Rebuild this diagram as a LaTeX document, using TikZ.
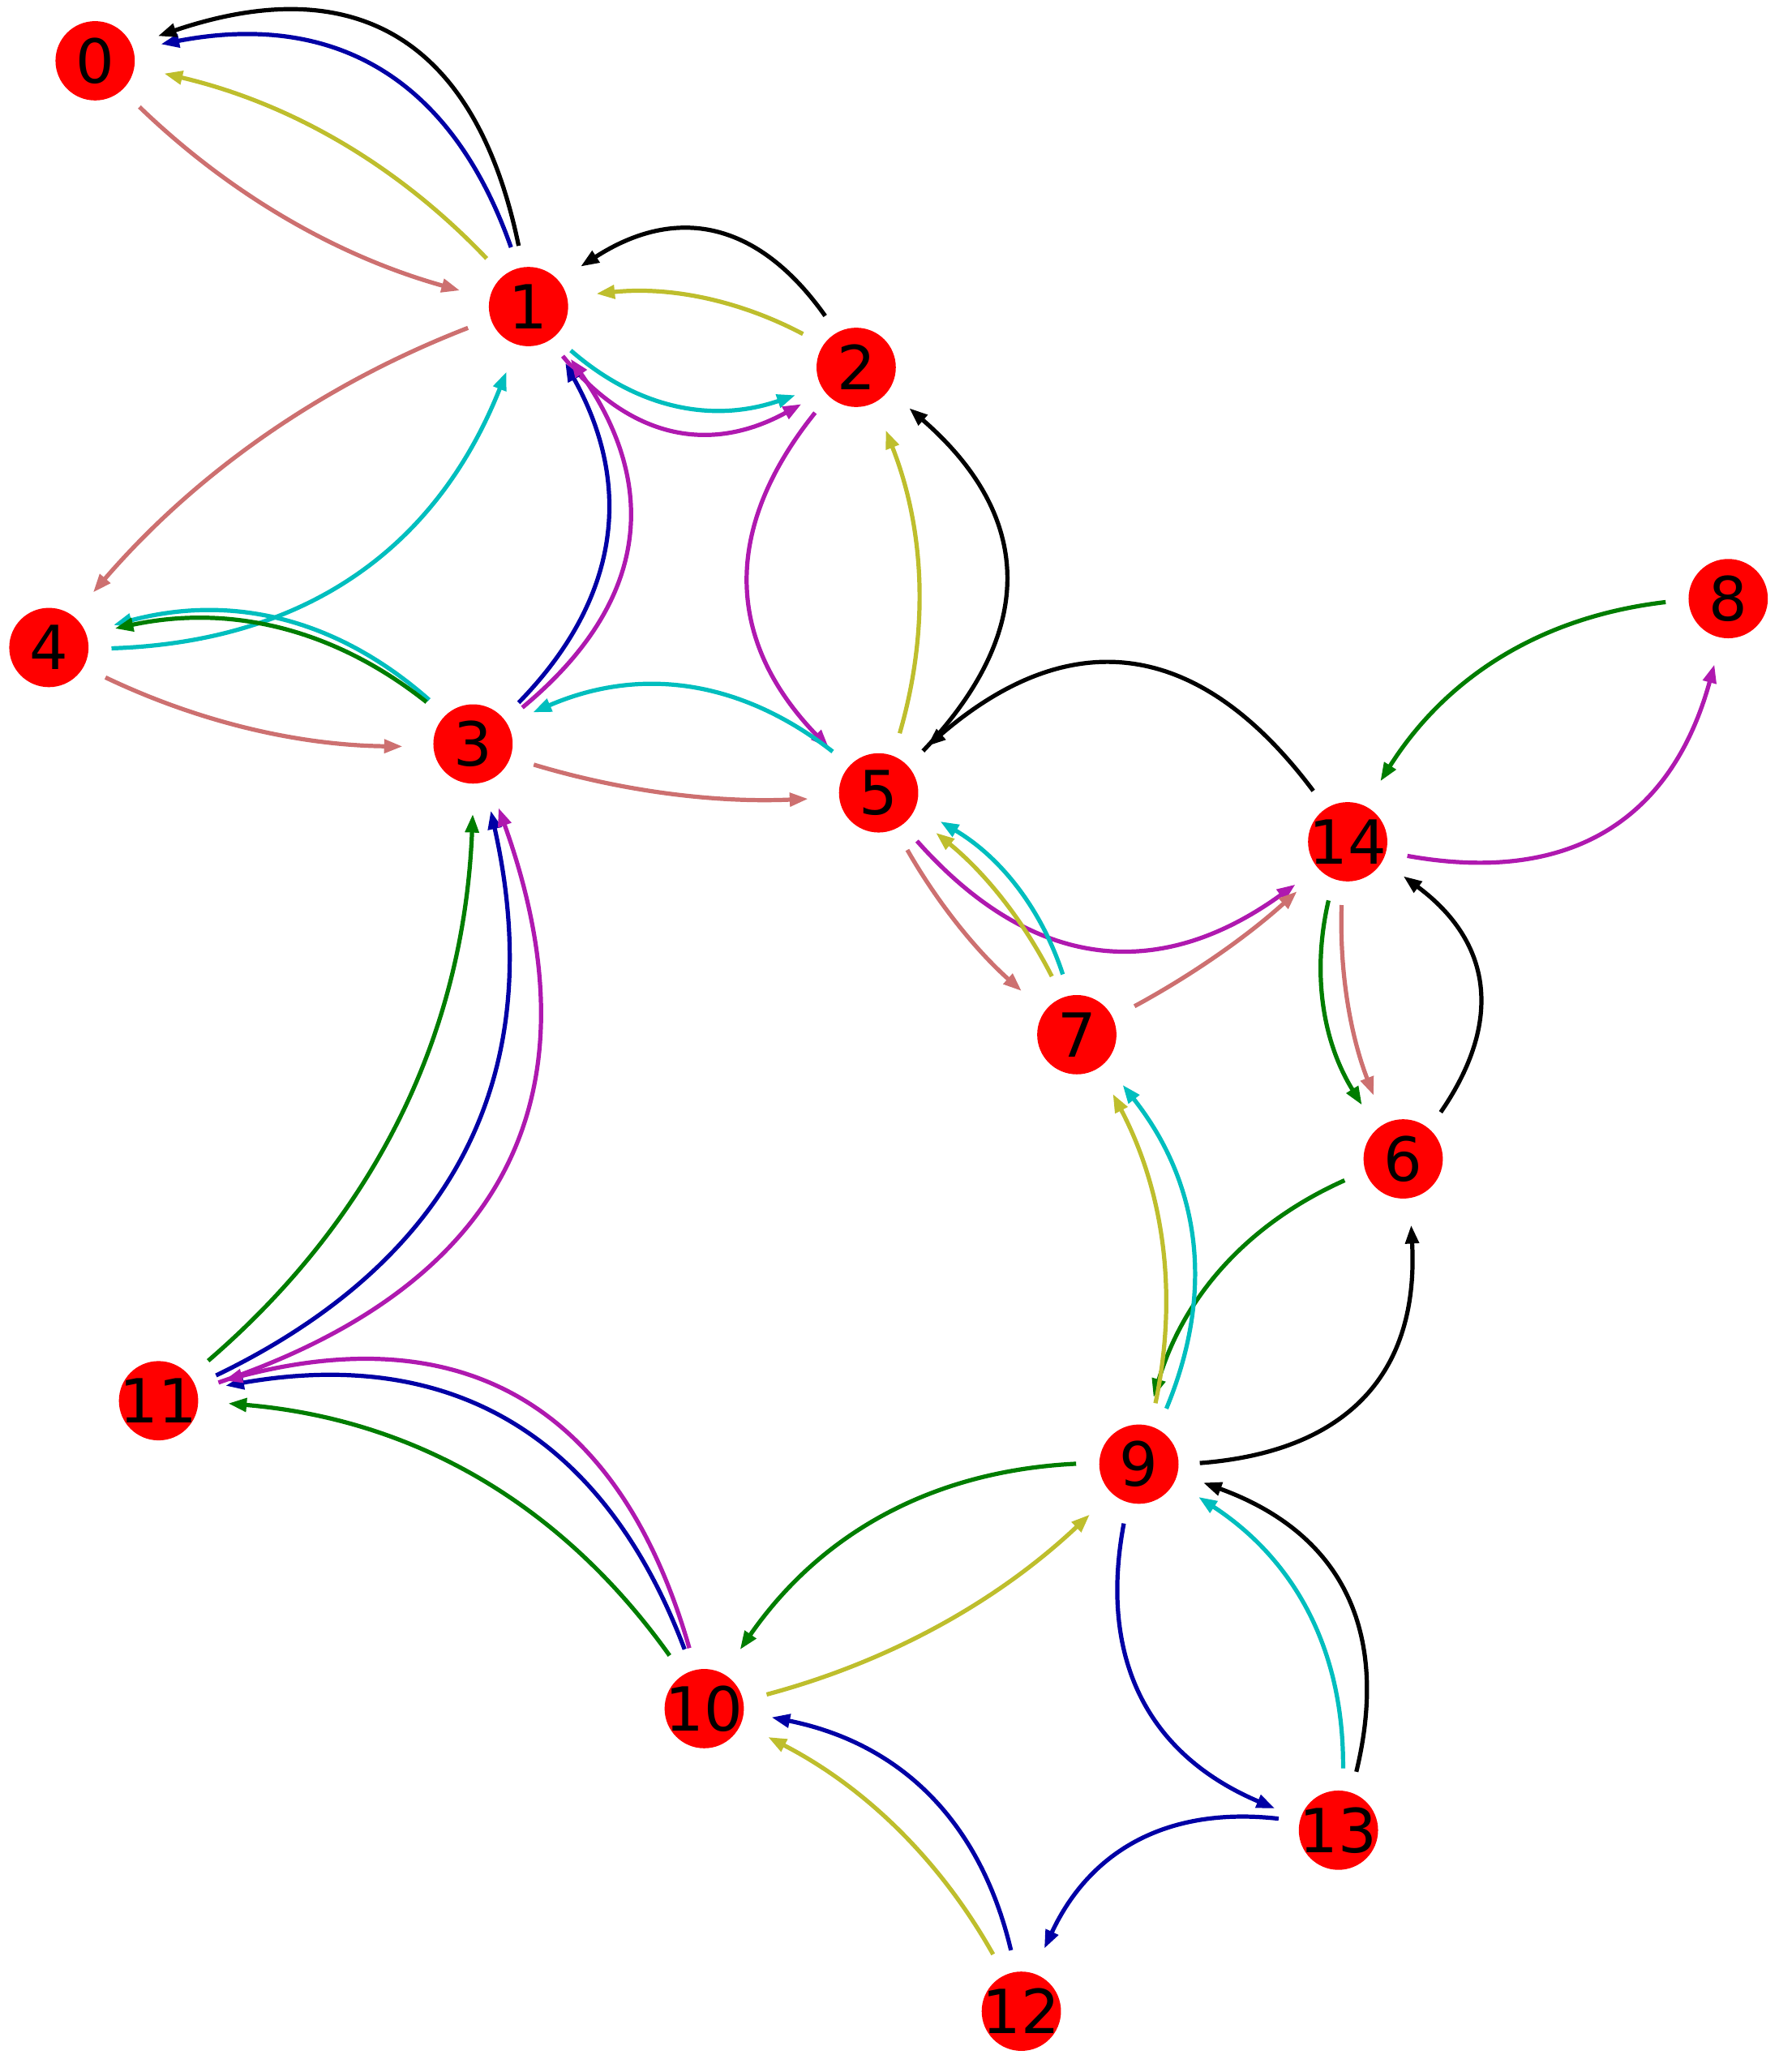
\documentclass[tikz,border=0pt]{standalone}
\usepackage{fontspec}
\setmainfont{DejaVu Sans}
\usetikzlibrary{arrows.meta,calc}
\definecolor{csal}{RGB}{205,112,112}
\definecolor{cylw}{RGB}{190,190,45}
\definecolor{ccyn}{RGB}{0,190,190}
\definecolor{cmag}{RGB}{175,25,175}
\definecolor{cblu}{RGB}{0,0,165}
\definecolor{cgrn}{RGB}{0,125,0}
% quadratic arc (matplotlib arc3 style) from node #3 to node #4, colour #1, rad #2,
% clipped 49pt from the start centre and 54pt from the end centre
\newcommand\qedge[4]{%
  \draw[ed=#1] let \p1=(#3.center), \p2=(#4.center),
    \n1={veclen(\x2-\x1,\y2-\y1)},
    \n2={2*\n1*sqrt(0.25+(#2)*(#2))},
    \n3={49/\n2},
    \n4={1-54/\n2},
    \p3=({(\x1+\x2)/2+(#2)*(\y2-\y1)},{(\y1+\y2)/2-(#2)*(\x2-\x1)}),
    \p4=({(1-\n3)*(1-\n3)*\x1+2*\n3*(1-\n3)*\x3+\n3*\n3*\x2},{(1-\n3)*(1-\n3)*\y1+2*\n3*(1-\n3)*\y3+\n3*\n3*\y2}),
    \p5=({(1-\n4)*(1-\n4)*\x1+2*\n4*(1-\n4)*\x3+\n4*\n4*\x2},{(1-\n4)*(1-\n4)*\y1+2*\n4*(1-\n4)*\y3+\n4*\n4*\y2}),
    \p6=({(1-\n3)*(1-\n4)*\x1+((1-\n3)*\n4+\n3*(1-\n4))*\x3+\n3*\n4*\x2},{(1-\n3)*(1-\n4)*\y1+((1-\n3)*\n4+\n3*(1-\n4))*\y3+\n3*\n4*\y2}),
    \p7=({\x4/3+2*\x6/3},{\y4/3+2*\y6/3}),
    \p8=({\x5/3+2*\x6/3},{\y5/3+2*\y6/3})
  in (\p4) .. controls (\p7) and (\p8) .. (\p5);}
\begin{document}
\begin{tikzpicture}[x=1pt,y=1pt,
  vx/.style={circle, fill=red, minimum size=60pt, inner sep=0pt,
    label={[font=\fontsize{46}{50}\selectfont, text=black, inner sep=0pt]center:#1}},
  ed/.style={line width=3.2pt, -{Triangle[length=14pt,width=10pt]}, draw=#1}]
\useasboundingbox (0,0) rectangle (1346,-1568);
\node[vx=0]  (n0)  at (72,-46) {};
\node[vx=1]  (n1)  at (400,-232) {};
\node[vx=2]  (n2)  at (648,-278) {};
\node[vx=3]  (n3)  at (358,-563) {};
\node[vx=4]  (n4)  at (37,-490) {};
\node[vx=5]  (n5)  at (665,-600) {};
\node[vx=6]  (n6)  at (1062,-877) {};
\node[vx=7]  (n7)  at (815,-783) {};
\node[vx=8]  (n8)  at (1308,-453) {};
\node[vx=9]  (n9)  at (862,-1108) {};
\node[vx=10] (n10) at (533,-1293) {};
\node[vx=11] (n11) at (120,-1060) {};
\node[vx=12] (n12) at (773,-1522) {};
\node[vx=13] (n13) at (1013,-1385) {};
\node[vx=14] (n14) at (1020,-637) {};
% 0-1
\qedge{csal}{0.17}{n0}{n1}
\qedge{cylw}{0.20}{n1}{n0}
\qedge{cblu}{0.53}{n1}{n0}
\qedge{black}{0.675}{n1}{n0}
% 1-2
\qedge{cylw}{0.24}{n2}{n1}
\qedge{black}{0.64}{n2}{n1}
\qedge{ccyn}{0.42}{n1}{n2}
\qedge{cmag}{0.57}{n1}{n2}
% 1-4, 4-3, 3-4
\qedge{csal}{0.16}{n1}{n4}
\qedge{ccyn}{0.40}{n4}{n1}
\qedge{ccyn}{0.36}{n3}{n4}
\qedge{cgrn}{0.32}{n3}{n4}
\qedge{csal}{0.157}{n4}{n3}
% 3-1
\qedge{cblu}{0.48}{n3}{n1}
\qedge{cmag}{0.58}{n3}{n1}
% 2-5
\qedge{cmag}{0.56}{n2}{n5}
\qedge{cylw}{0.24}{n5}{n2}
\qedge{black}{0.65}{n5}{n2}
% 3-5
\qedge{ccyn}{0.40}{n5}{n3}
\qedge{csal}{0.125}{n3}{n5}
% 14, 8
\qedge{black}{0.65}{n14}{n5}
\qedge{cgrn}{0.32}{n8}{n14}
\qedge{cmag}{0.57}{n14}{n8}
\qedge{cmag}{0.56}{n5}{n14}
% 5-7-14
\qedge{csal}{0.14}{n5}{n7}
\qedge{cylw}{0.18}{n7}{n5}
\qedge{ccyn}{0.30}{n7}{n5}
\qedge{csal}{0.10}{n7}{n14}
% 14-6
\qedge{cgrn}{0.32}{n14}{n6}
\qedge{csal}{0.17}{n14}{n6}
\qedge{black}{0.65}{n6}{n14}
% 6-9, 9-7
\qedge{cgrn}{0.32}{n6}{n9}
\qedge{cylw}{0.25}{n9}{n7}
\qedge{ccyn}{0.39}{n9}{n7}
\qedge{black}{0.62}{n9}{n6}
% 9-10, 9-13
\qedge{cgrn}{0.32}{n9}{n10}
\qedge{cylw}{0.17}{n10}{n9}
\qedge{cblu}{0.52}{n9}{n13}
\qedge{ccyn}{0.37}{n13}{n9}
\qedge{black}{0.57}{n13}{n9}
% 13-12-10
\qedge{cblu}{0.49}{n13}{n12}
\qedge{cylw}{0.21}{n12}{n10}
\qedge{cblu}{0.42}{n12}{n10}
% 10-11-3
\qedge{cgrn}{0.285}{n10}{n11}
\qedge{cblu}{0.49}{n10}{n11}
\qedge{cmag}{0.57}{n10}{n11}
\qedge{cgrn}{0.26}{n11}{n3}
\qedge{cblu}{0.46}{n11}{n3}
\qedge{cmag}{0.58}{n11}{n3}
\end{tikzpicture}
\end{document}
